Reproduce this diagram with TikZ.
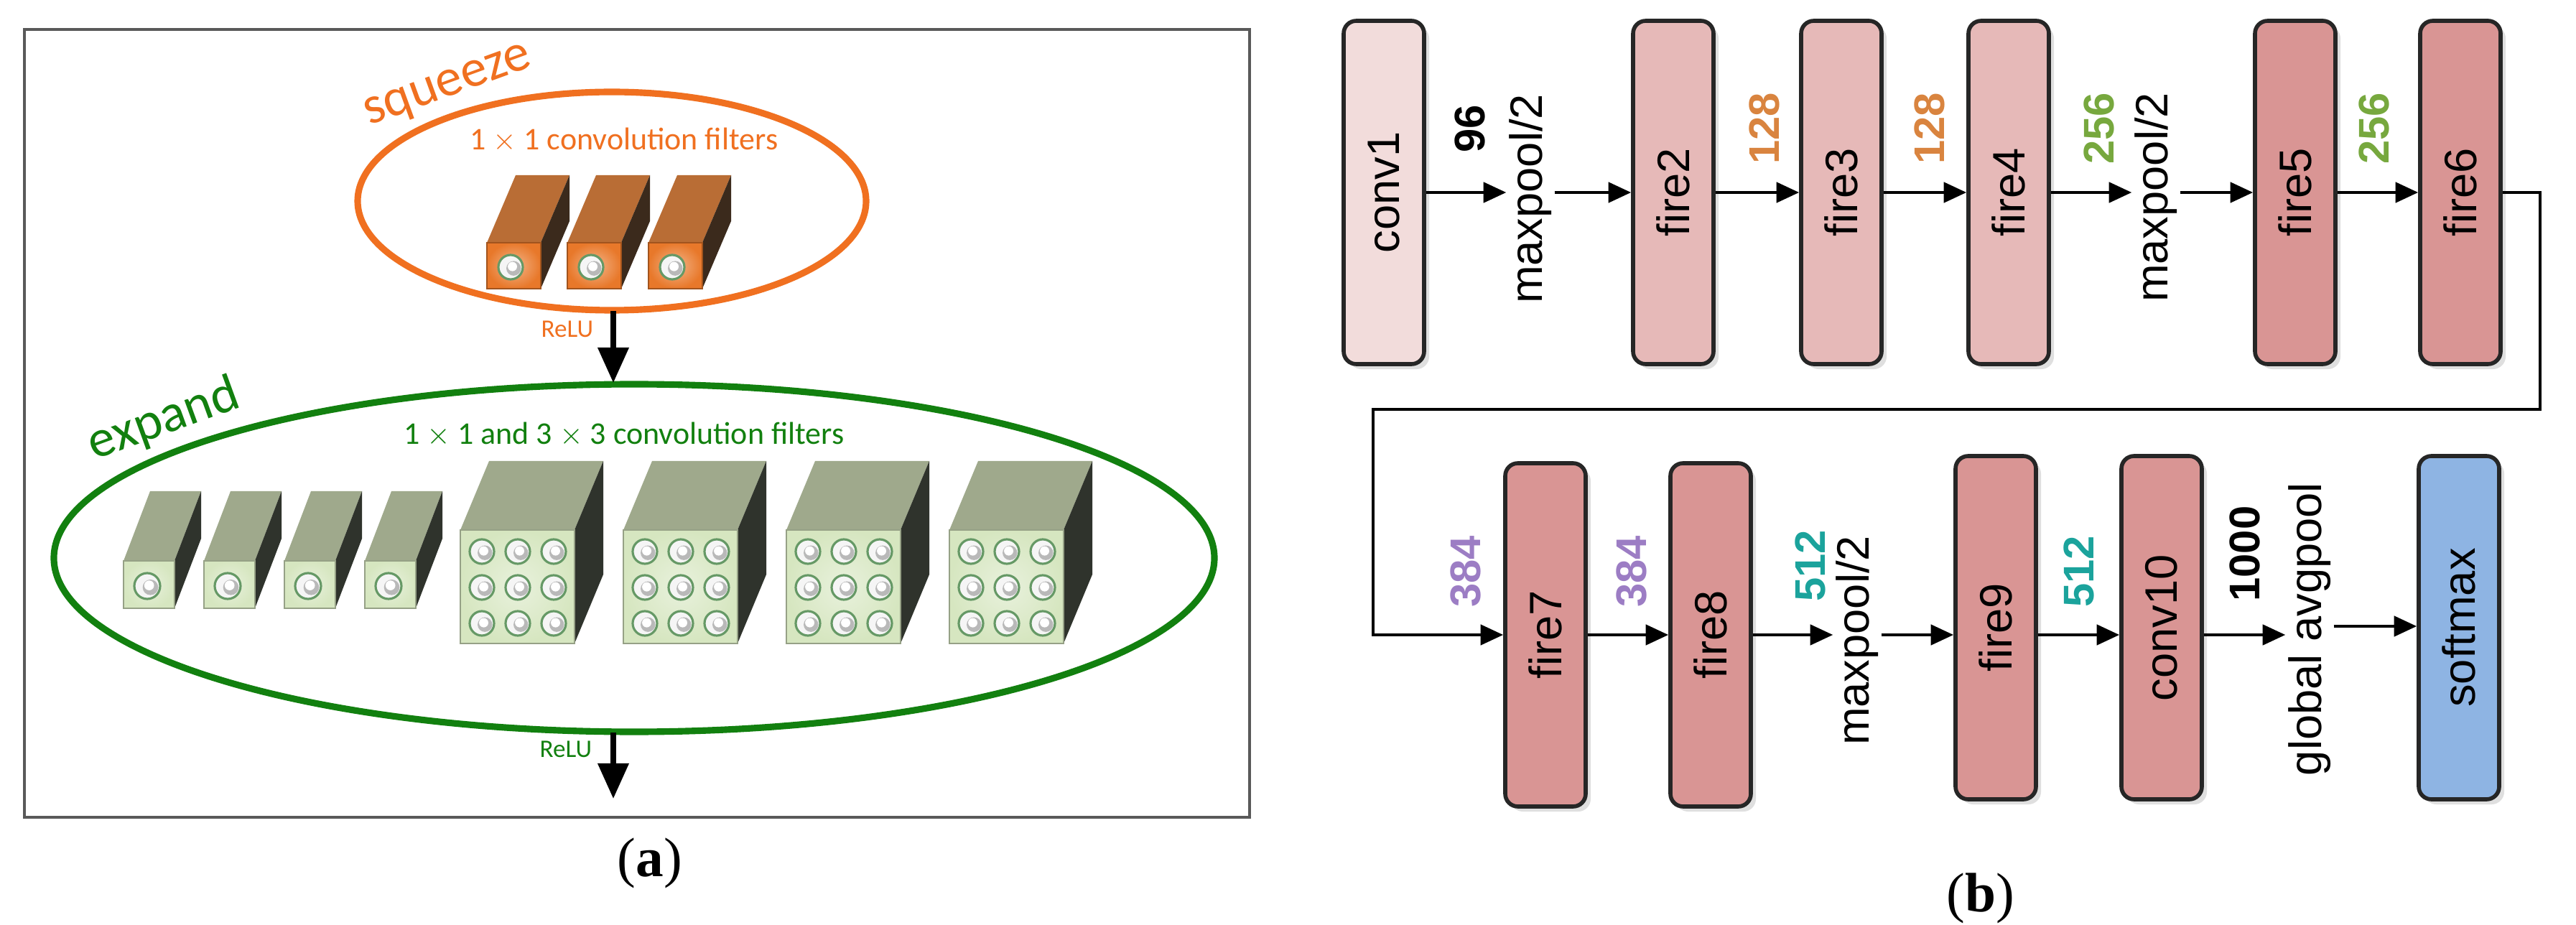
\documentclass[tikz,border=0pt]{standalone}
\usepackage{fontspec}
\setmainfont{Liberation Serif}
\newfontfamily\calfam{Carlito}
\newfontfamily\ars{Liberation Sans}
\usetikzlibrary{arrows.meta,shadows}
\definecolor{sq}{HTML}{F07020}
\definecolor{ex}{HTML}{12800F}
\definecolor{cA}{HTML}{F2DCDB}
\definecolor{cB}{HTML}{E6B9B8}
\definecolor{cC}{HTML}{D99594}
\definecolor{cS}{HTML}{8EB4E3}
\definecolor{nO}{HTML}{D9843F}
\definecolor{nG}{HTML}{77A83E}
\definecolor{nP}{HTML}{9C7DC4}
\definecolor{nT}{HTML}{1BA39C}
\definecolor{oF}{HTML}{E8782A}
\definecolor{oT}{HTML}{B96D35}
\definecolor{oS}{HTML}{3B2A1C}
\definecolor{gF}{HTML}{D6E6C0}
\definecolor{gT}{HTML}{9FA98C}
\definecolor{gS}{HTML}{2F332C}
\tikzset{
 blk/.style={draw=black!85,line width=1.6pt,rounded corners=5pt,minimum width=1.12cm,minimum height=4.78cm,
   font=\ars\fontsize{18}{20}\selectfont,drop shadow={shadow xshift=2pt,shadow yshift=-2pt,opacity=0.25}},
 lbl/.style={rotate=90,font=\ars\fontsize{18}{20}\selectfont,inner sep=1pt},
 num/.style={rotate=90,font=\ars\bfseries\fontsize{17}{19}\selectfont,inner sep=1pt},
 arr/.style={line width=1.3pt,-{Triangle[length=9pt,width=8pt]}},
 bigarr/.style={line width=2pt,-{Triangle[length=14pt,width=12pt]}},
 knob/.style={fill=white!92!gray,draw=gray!80!green,line width=0.9pt},
}
% \drawcube{x}{y}{w}{h}{dx}{dy}{front}{top}{side}
\newcommand\drawcube[9]{%
 \fill[#8] (#1,-#2) -- ++(#5,#6) -- ++(#3,0) -- ++(-#5,-#6) -- cycle;
 \fill[#9] (#1+#3,-#2) -- ++(#5,#6) -- ++(0,-#4) -- ++(-#5,-#6) -- cycle;
 \shade[inner color=#7!55!white,outer color=#7] (#1,-#2) rectangle ++(#3,-#4);
 \draw[#7!70!black,line width=0.5pt] (#1,-#2) rectangle ++(#3,-#4);
}
\newcommand\knobat[3]{%
 \draw[knob] (#1,#2) circle (#3);
 \fill[gray!55] (#1+0.25*#3,#2-0.1*#3) circle (0.6*#3);
 \fill[white] (#1+0.15*#3,#2+0.05*#3) circle (0.38*#3);
}
\begin{document}
\begin{tikzpicture}
\useasboundingbox[fill=white] (0,0) rectangle (35.87,-12.88);
% ---------- panel (a)
\draw[gray!70!black,line width=1pt] (0.34,-0.41) rectangle (17.40,-11.38);
\draw[sq,line width=2.6pt] (8.52,-2.80) ellipse (3.54 and 1.52);
\draw[ex,line width=2.6pt] (8.83,-7.77) ellipse (8.08 and 2.42);
\node[sq,rotate=20,font=\calfam\fontsize{21}{23}\selectfont] (sqz) at (6.25,-1.22) {squeeze};
\node[ex,rotate=20,font=\calfam\fontsize{21}{23}\selectfont] (exp) at (2.28,-5.85) {expand};
\node[sq,font=\calfam\fontsize{12.5}{14}\selectfont] (t1) at (8.69,-1.95) {1 $\times$ 1 convolution filters};
\node[ex,font=\calfam\fontsize{12.5}{14}\selectfont] (t2) at (8.69,-6.05) {1 $\times$ 1 and 3 $\times$ 3 convolution filters};
\foreach \x in {6.78,7.90,9.03}{
 \drawcube{\x}{3.38}{0.75}{0.64}{0.40}{0.94}{oF}{oT}{oS}
 \knobat{\x+0.33}{-3.72}{0.17}
}
\foreach \x in {1.72,2.84,3.96,5.08}{
 \drawcube{\x}{7.81}{0.71}{0.66}{0.37}{0.97}{gF}{gT}{gS}
 \knobat{\x+0.33}{-8.16}{0.18}
}
\foreach \x in {6.41,8.68,10.95,13.22}{
 \drawcube{\x}{7.38}{1.59}{1.58}{0.40}{0.96}{gF}{gT}{gS}
 \foreach \i in {0,1,2}{\foreach \j in {0,1,2}{
   \knobat{\x+0.30+0.50*\i}{-7.68-0.50*\j}{0.17}}}
}
\node[sq,font=\calfam\fontsize{10}{12}\selectfont] (r1) at (7.90,-4.58) {ReLU};
\node[ex,font=\calfam\fontsize{10}{12}\selectfont] (r2) at (7.88,-10.43) {ReLU};
\coordinate (a1) at (8.54,-4.33);
\coordinate (a2) at (8.54,-5.33);
\coordinate (a3) at (8.54,-10.20);
\coordinate (a4) at (8.54,-11.12);
\draw[bigarr] (a1) -- (a2);
\draw[bigarr] (a3) -- (a4);
\node[font=\fontsize{22}{24}\selectfont] (capa) at (9.05,-12.02) {(\textbf{a})};
% ---------- panel (b)
\node[blk,fill=cA] (conv1) at (19.27,-2.68) {\rotatebox{90}{conv1}};
\node[blk,fill=cB] (fire2) at (23.30,-2.68) {\rotatebox{90}{fire2}};
\node[blk,fill=cB] (fire3) at (25.64,-2.68) {\rotatebox{90}{fire3}};
\node[blk,fill=cB] (fire4) at (27.97,-2.68) {\rotatebox{90}{fire4}};
\node[blk,fill=cC] (fire5) at (31.96,-2.68) {\rotatebox{90}{fire5}};
\node[blk,fill=cC] (fire6) at (34.26,-2.68) {\rotatebox{90}{fire6}};
\node[blk,fill=cC] (fire7) at (21.52,-8.84) {\rotatebox{90}{fire7}};
\node[blk,fill=cC] (fire8) at (23.82,-8.84) {\rotatebox{90}{fire8}};
\node[blk,fill=cC] (fire9) at (27.79,-8.74) {\rotatebox{90}{fire9}};
\node[blk,fill=cC] (conv10) at (30.10,-8.74) {\rotatebox{90}{conv10}};
\node[blk,fill=cS] (soft) at (34.24,-8.74) {\rotatebox{90}{softmax}};
\node[lbl] (mp1) at (21.31,-2.77) {maxpool/2};
\node[lbl] (mp2) at (30.02,-2.75) {maxpool/2};
\node[lbl] (mp3) at (25.86,-8.92) {maxpool/2};
\node[lbl] (gap) at (32.16,-8.76) {global avgpool};
\node[num] (n1) at (20.47,-1.79) {96};
\node[num,nO] (n2) at (24.57,-1.79) {128};
\node[num,nO] (n3) at (26.87,-1.79) {128};
\node[num,nG] (n4) at (29.23,-1.79) {256};
\node[num,nG] (n5) at (33.06,-1.79) {256};
\node[num,nP] (n6) at (20.41,-7.96) {384};
\node[num,nP] (n7) at (22.72,-7.96) {384};
\node[num,nT] (n8) at (25.21,-7.88) {512};
\node[num,nT] (n9) at (28.95,-7.96) {512};
\node[num] (n10) at (31.26,-7.71) {1000};
\draw[arr] (conv1.east) -- (conv1.east -| mp1.north);
\draw[arr] (fire2.west -| mp1.south) -- (fire2.west);
\draw[arr] (fire2) -- (fire3);
\draw[arr] (fire3) -- (fire4);
\draw[arr] (fire4.east) -- (fire4.east -| mp2.north);
\draw[arr] (fire5.west -| mp2.south) -- (fire5.west);
\draw[arr] (fire5) -- (fire6);
\coordinate (c1) at (35.37,-5.70);
\coordinate (c2) at (19.12,-5.70);
\draw[arr] (fire6.east) -| (c1) -- (c2) |- (fire7.west);
\draw[arr] (fire7) -- (fire8);
\draw[arr] (fire8.east) -- (fire8.east -| mp3.north);
\draw[arr] (fire8.east -| mp3.south) -- (fire8.east -| fire9.west);
\draw[arr] (fire9.east |- fire8.east) -- (fire8.east -| conv10.west);
\draw[arr] (conv10.east |- fire8.east) -- (fire8.east -| gap.north);
\draw[arr] (gap.south |- 0,-8.72) -- (soft.west |- 0,-8.72);
\node[font=\fontsize{22}{24}\selectfont] (capb) at (27.58,-12.51) {(\textbf{b})};
\end{tikzpicture}
\end{document}
